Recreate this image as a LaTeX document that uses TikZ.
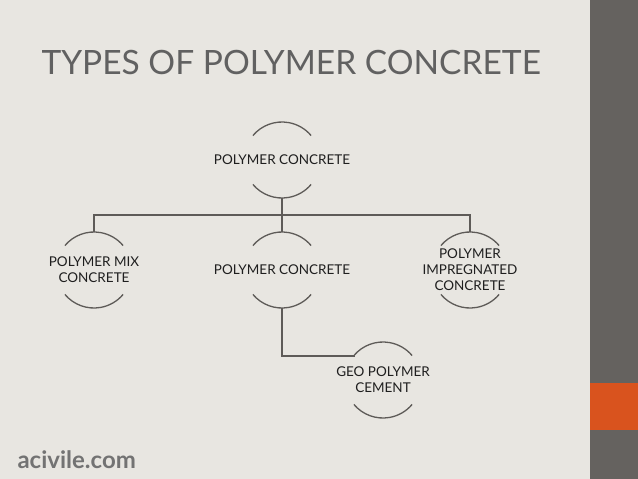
\documentclass[tikz,border=0pt]{standalone}
\usepackage{fontspec}
\setmainfont{Lato}
\usetikzlibrary{calc}
\definecolor{bg}{HTML}{E8E6E1}
\definecolor{strip}{HTML}{65625F}
\definecolor{org}{HTML}{D9531E}
\definecolor{ln}{HTML}{5E5B58}
\begin{document}
\begin{tikzpicture}[x=1pt,y=-1pt,
  lbl/.style={align=center,font=\fontsize{13.5}{16}\selectfont,text=black!88},
  arc/.style={draw=ln,line width=1.3pt},
  con/.style={draw=ln,line width=1.6pt}]
\useasboundingbox (0,0) rectangle (638,479);
\fill[bg] (0,0) rectangle (590,479);
\fill[strip] (590,0) rectangle (638,479);
\fill[org] (590,383) rectangle (638,430);
\node[anchor=west,text=black!62,font=\fontsize{33.5}{40}\selectfont] (title) at (38,62) {TYPES OF POLYMER CONCRETE};
\newcommand\myblob[3]{%
  \node[lbl] (#1) at (#2) {#3};
  \draw[arc] ($(#1)+(140:38)$) arc (140:40:38);
  \draw[arc] ($(#1)+(-140:38)$) arc (-140:-40:38);
  \coordinate (#1-t) at ($(#1)+(0,-38)$);
  \coordinate (#1-b) at ($(#1)+(0,38)$);}
\myblob{root}{282,160}{POLYMER CONCRETE}
\myblob{mix}{94,270}{POLYMER MIX\\CONCRETE}
\myblob{mid}{282,270}{POLYMER CONCRETE}
\myblob{imp}{470,270}{POLYMER\\IMPREGNATED\\CONCRETE}
\myblob{geo}{383,380}{GEO POLYMER\\CEMENT}
\coordinate (bus) at (282,215);
\draw[con] (root-b) -- (bus);
\draw[con] (mix-t) -- (94,215) -- (470,215) -- (imp-t);
\draw[con] (bus) -- (mid-t);
\draw[con] (mid-b) -- (282,356) -- ($(geo)+(-28,-24)$);
\node[anchor=west,text=black!55,font=\bfseries\fontsize{24}{26}\selectfont] (wm) at (14,460) {acivile.com};
\end{tikzpicture}
\end{document}
